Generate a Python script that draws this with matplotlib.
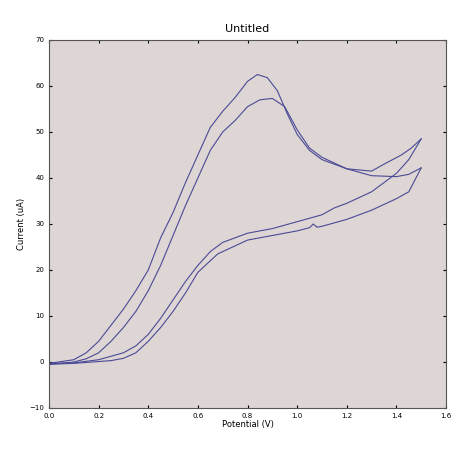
import matplotlib.pyplot as plt

# ciclo 1: barrido directo y de regreso
e_ida1 = [0, .1, .15, .2, .25, .3, .35, .4, .45, .5, .55, .6, .65, .7, .75, .8, .84, .88, .92, .96, 1.0, 1.05, 1.1, 1.2, 1.3, 1.35, 1.42, 1.46, 1.5]
i_ida1 = [-0.3, 0.5, 2, 4.5, 8, 11.5, 15.5, 20, 27, 32.5, 39, 45, 51, 54.5, 57.5, 61, 62.5, 61.8, 59, 54, 49.5, 46, 44, 42, 41.5, 43, 45, 46.5, 48.5]
e_vuelta1 = [1.5, 1.45, 1.4, 1.3, 1.2, 1.15, 1.1, 1.0, .9, .8, .7, .65, .6, .55, .5, .45, .4, .35, .3, .2, .1, 0]
i_vuelta1 = [48.5, 44, 41, 37, 34.5, 33.5, 32, 30.5, 29, 28, 26, 24, 21, 17.5, 13.5, 9.5, 6, 3.5, 2, 0.5, -0.2, -0.3]

# ciclo 2
e_ida2 = [0, .1, .15, .2, .25, .3, .35, .4, .45, .5, .55, .6, .65, .7, .75, .8, .85, .9, .95, 1.0, 1.05, 1.1, 1.2, 1.3, 1.4, 1.45, 1.5]
i_ida2 = [-0.5, 0, 0.7, 2, 4.5, 7.5, 11, 15.5, 21, 27.5, 34, 40, 46, 50, 52.5, 55.5, 57, 57.3, 55.5, 50.5, 46.5, 44.5, 42, 40.5, 40.3, 40.8, 42.2]
e_vuelta2 = [1.5, 1.45, 1.4, 1.3, 1.2, 1.1, 1.08, 1.065, 1.05, 1.0, .9, .8, .7, .68, .6, .55, .5, .45, .4, .35, .3, .25, .1, 0]
i_vuelta2 = [42.2, 37, 35.5, 33, 31, 29.5, 29.3, 30, 29.2, 28.5, 27.5, 26.5, 24, 23.5, 19.5, 15, 11, 7.5, 4.5, 2, 0.8, 0.3, -0.3, -0.5]

color = "#4b4a96"
fig = plt.figure(figsize=(4.74, 4.54), dpi=100)
ax = fig.add_axes([49 / 474, 1 - 408 / 454, 397 / 474, 368 / 454])
ax.set_facecolor("#ddd6d4")
for e, i in [(e_ida1, i_ida1), (e_vuelta1, i_vuelta1), (e_ida2, i_ida2), (e_vuelta2, i_vuelta2)]:
    ax.plot(e, i, color=color, lw=0.8)

ax.set_xlim(0, 1.6)
ax.set_ylim(-10, 70)
ax.set_xticks([0, .2, .4, .6, .8, 1.0, 1.2, 1.4, 1.6])
ax.set_xticklabels(["0.0", "0.2", "0.4", "0.6", "0.8", "1.0", "1.2", "1.4", "1.6"])
ax.set_yticks(range(-10, 71, 10))
ax.tick_params(labelsize=5, length=2, direction="in", right=True, top=True)
for s in ax.spines.values():
    s.set_color("#555555")
ax.set_title("Untitled", fontsize=8)
ax.set_xlabel("Potential (V)", fontsize=6, labelpad=1)
ax.set_ylabel("Current (uA)", fontsize=6, labelpad=2)
fig.savefig("out.png", dpi=100)
